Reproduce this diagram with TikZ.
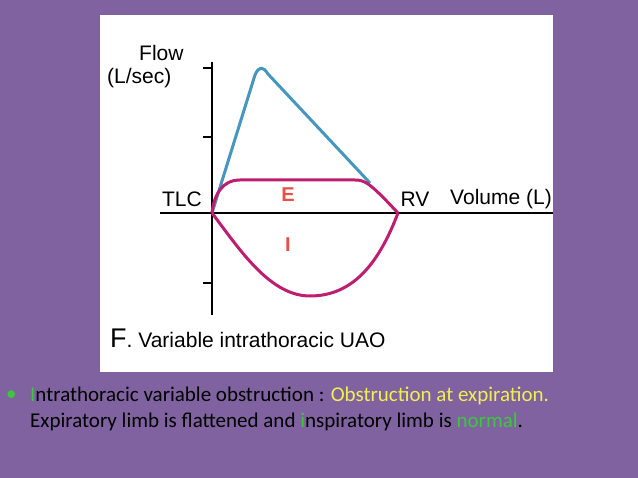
\documentclass[tikz,border=0pt]{standalone}
\usepackage{fontspec}
\setmainfont{Carlito}
\newfontfamily\arial{Liberation Sans}
\begin{document}
\begin{tikzpicture}[x=1pt,y=-1pt,
  lbl/.style={font=\arial\fontsize{21}{23}\selectfont,inner sep=0pt},
  ax/.style={line width=1.5pt,black},
  blue/.style={line width=3pt,color={rgb,255:red,70;green,150;blue,190},line join=round},
  pink/.style={line width=3pt,color={rgb,255:red,190;green,30;blue,110},line join=round},
  big/.style={font=\arial\bfseries\fontsize{20}{22}\selectfont,text={rgb,255:red,230;green,80;blue,70},inner sep=0pt},
  txt/.style={font=\fontsize{21}{24}\selectfont,inner sep=0pt,anchor=west}]
\definecolor{bg}{RGB}{128,98,160}
\fill[bg] (0,0) rectangle (638,478);
\useasboundingbox (0,0) rectangle (638,478);
\fill[white] (100,15) rectangle (553,372);
\coordinate (o) at (212,213);
\coordinate (rv) at (398,213);
\draw[ax] (212,62) -- (212,315);
\draw[ax] (160,213) -- (553,213);
\foreach \y in {68,137,283} \draw[ax] (203,\y) -- (212,\y);
\draw[blue] (o) -- (255,75) .. controls (259,66) and (263,66) .. (268,74) -- (370,183);
\draw[pink] (o) .. controls (214,195) and (222,180) .. (240,180) -- (355,180) .. controls (365,180) and (370,183) .. (rv);
\draw[pink] (o) .. controls (240,250) and (270,296) .. (310,296) .. controls (355,296) and (380,260) .. (rv);
\node[lbl,anchor=west] (flow) at (139,53) {Flow};
\node[lbl,anchor=west] (ls) at (107,78) {(L/sec)};
\node[lbl] (tlc) at (182,199) {TLC};
\node[lbl] (rvl) at (415,199) {RV};
\node[lbl] (vol) at (501,199) {Volume (L)};
\node[big] (E) at (288,195) {E};
\node[big] (I) at (288,245) {I};
\node[lbl,anchor=west] (cap) at (110,338) {{\fontsize{27}{27}\selectfont F}. Variable intrathoracic UAO};
\node[txt,text={rgb,255:red,60;green,200;blue,60}] (b) at (6,396) {•};
\node[txt] (l1) at (30,396) {\textcolor[RGB]{60,200,60}{I}ntrathoracic variable obstruction : \textcolor[RGB]{240,240,80}{Obstruction at expiration.}};
\node[txt] (l2) at (30,422) {Expiratory limb is flattened and \textcolor[RGB]{60,200,60}{i}nspiratory limb is \textcolor[RGB]{60,200,60}{normal}.};
\end{tikzpicture}
\end{document}
